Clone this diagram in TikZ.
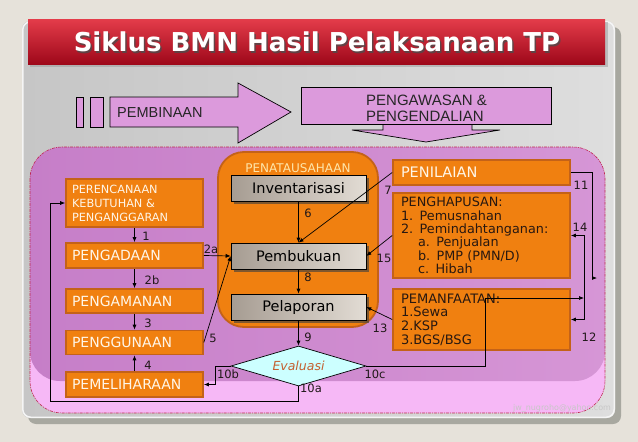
\documentclass[tikz,border=0pt]{standalone}
\usepackage{fontspec}
\setmainfont{DejaVu Sans}
\newfontfamily\lib{Liberation Sans}
\usetikzlibrary{arrows.meta,shapes.geometric,shadows,calc}
\definecolor{bgc}{RGB}{230,226,218}
\definecolor{shc}{RGB}{168,168,160}
\definecolor{cardL}{RGB}{198,198,198}
\definecolor{cardR}{RGB}{222,222,222}
\definecolor{titT}{RGB}{228,60,74}
\definecolor{titB}{RGB}{158,8,26}
\definecolor{orng}{RGB}{240,128,16}
\definecolor{obord}{RGB}{196,98,24}
\definecolor{plum}{RGB}{220,154,220}
\definecolor{pinkl}{RGB}{246,184,246}
\definecolor{purpL}{RGB}{198,126,200}
\definecolor{purpM}{RGB}{234,170,234}
\definecolor{purpR}{RGB}{214,150,214}
\definecolor{cyanl}{RGB}{204,255,255}
\definecolor{evalc}{RGB}{196,96,48}
\definecolor{txtw}{RGB}{255,246,232}
\definecolor{crem}{RGB}{255,230,170}
\definecolor{dashc}{RGB}{190,40,80}
\definecolor{numc}{RGB}{32,24,24}
\definecolor{dtxt}{RGB}{40,24,16}
\definecolor{gryL}{RGB}{166,156,146}
\definecolor{gryR}{RGB}{226,220,212}
\begin{document}
\begin{tikzpicture}[x=1pt,y=-1pt,
  obox/.style={draw=obord, line width=1.6pt, fill=orng, inner xsep=6pt, inner ysep=0pt,
    align=left, text=txtw, font=\fontsize{14}{16}\selectfont},
  lbox/.style={obox, text width=125pt},
  rbox/.style={obox, inner xsep=8pt, text width=161pt},
  gbox/.style={draw=black, line width=0.6pt, left color=gryL, right color=gryR,
    minimum width=135pt, minimum height=26pt, inner sep=0pt,
    font=\fontsize{14.5}{16}\selectfont, text=black,
    drop shadow={shadow xshift=3pt, shadow yshift=-3pt, fill={rgb,255:red,80;green,70;blue,60}, opacity=0.7}},
  lbl/.style={font=\fontsize{11.5}{12}\selectfont, text=numc, inner sep=0pt},
  arr/.style={-{Latex[length=5pt,width=4pt]}, line width=0.7pt, draw=black},
  con/.style={line width=0.7pt, draw=black},
  pl/.style={fill=plum, draw=black, line width=0.7pt}
]
% background
\fill[bgc] (0,0) rectangle (638,442);
% card
\fill[shc, rounded corners=8pt] (28,27) rectangle (621,424);
\shade[left color=cardL, right color=cardR, rounded corners=8pt] (22,21) rectangle (615,418);
\draw[white!92!gray, line width=1.5pt, rounded corners=8pt] (22.75,21.75) rectangle (614.25,417.25);
% title bar
\fill[black!40, opacity=0.5] (30,22) rectangle (608,67);
\shade[top color=titT, bottom color=titB] (28,19) rectangle (605,64);
\node[font={\fontsize{26}{30}\selectfont\bfseries}, text=black!70, opacity=0.8] (titsh) at (318.5,43.5) {Siklus BMN Hasil Pelaksanaan TP};
\node[font={\fontsize{26}{30}\selectfont\bfseries}, text=white] (title) at (317,42) {Siklus BMN Hasil Pelaksanaan TP};
% pembinaan arrow
\filldraw[pl] (76,97) rectangle (83,127);
\filldraw[pl] (90,97) rectangle (103,127);
\filldraw[pl] (110,97) -- (238,97) -- (238,83) -- (291,112) -- (238,143) -- (238,127) -- (110,127) -- cycle;
\node[anchor=west, font={\lib\fontsize{14.5}{16}\selectfont}, text=black!85, inner sep=0pt] (pembin) at (117,113) {PEMBINAAN};
% pengawasan
\filldraw[pl] (383,110) -- (383,130) -- (352,130) -- (426,142) -- (500,130) -- (472,130) -- (472,110) -- cycle;
\filldraw[pl] (301,87) rectangle (551,124);
\node[anchor=west, align=left, font={\lib\fontsize{15}{16.5}\selectfont}, text=black!85, inner sep=0pt] (pengaw) at (366,108.5) {PENGAWASAN \&\\PENGENDALIAN};
% pink region
\begin{scope}
\clip[rounded corners=32pt] (30,147) rectangle (605,413);
\fill[pinkl] (30,147) rectangle (605,413);
\shade[left color=purpL, middle color=purpM, right color=purpR, rounded corners=30pt] (30,147) rectangle (605,381);
\end{scope}
\draw[dashc, line width=0.6pt, dash pattern=on 3pt off 1pt on 1pt off 1pt, rounded corners=32pt] (30,147) rectangle (605,413);
% penatausahaan
\node[draw=obord, line width=1.8pt, fill=orng, rounded corners=26pt, minimum width=160pt, minimum height=175pt, inner sep=0pt] (penat) at (298,239.5) {};
\node[font=\fontsize{12}{14}\selectfont, text=crem, inner sep=0pt] (penatl) at (298,168) {PENATAUSAHAAN};
\node[gbox] (inv) at (298.5,188) {Inventarisasi};
\node[gbox] (pemb) at (298.5,256) {Pembukuan};
\node[gbox] (pelap) at (298.5,307) {Pelaporan};
% left column
\node[lbox, minimum height=48pt, font=\fontsize{11.3}{14}\selectfont] (perenc) at (134.5,203) {PERENCANAAN\\KEBUTUHAN \&\\PENGANGGARAN};
\node[lbox, minimum height=25pt] (pengad) at (134.5,255.5) {PENGADAAN};
\node[lbox, minimum height=24pt] (pengam) at (134.5,301) {PENGAMANAN};
\node[lbox, minimum height=24pt] (penggu) at (134.5,342.5) {PENGGUNAAN};
\node[lbox, minimum height=25pt] (pemel) at (134.5,384.5) {PEMELIHARAAN};
% right column
\node[rbox, minimum height=25pt, font=\fontsize{14.5}{16}\selectfont] (penil) at (481.5,172.5) {PENILAIAN};
\node[rbox, minimum height=85pt, text=dtxt, font=\fontsize{12.8}{13.3}\selectfont] (penghap) at (481.5,235.5) {PENGHAPUSAN:\\1. Pemusnahan\\2. Pemindahtanganan:\\\hspace*{17pt}a. Penjualan\\\hspace*{17pt}b. PMP (PMN/D)\\\hspace*{17pt}c. Hibah};
\node[rbox, minimum height=61pt, text=dtxt, font=\fontsize{13}{13.7}\selectfont] (pemanf) at (481.5,319.5) {PEMANFAATAN:\\1.Sewa\\2.KSP\\3.BGS/BSG};
% evaluasi
\node[diamond, shape aspect=3.375, draw=black, line width=0.7pt, fill=cyanl, minimum width=135pt, minimum height=40pt, inner sep=0pt, font=\fontsize{12.5}{14}\selectfont\itshape, text=evalc] (eval) at (298.5,366) {Evaluasi};
% connectors
\draw[arr] (perenc.south) -- (pengad.north);
\draw[arr] (pengad.south) -- (pengam.north);
\draw[arr] (pengam.south) -- (penggu.north);
\draw[arr] (pemel.north) -- (penggu.south);
\draw[arr] (pengad.east) -- (pemb.west);
\draw[arr] (penggu.east) -- (pemb.west);
\draw[arr] (inv.south) -- (pemb.north);
\draw[arr] (penil.west) -- (pemb.north);
\draw[arr] (penghap.west) -- (pemb.east);
\draw[arr] (pemb.south) -- (pelap.north);
\draw[arr] (pemanf.west) -- (pelap.east);
\draw[arr] (pelap.south) -- (eval.north);
\draw[arr] (eval.west) -- ++(-15,0) |- (pemel.east);
\coordinate (lb) at (50,401);
\draw[arr] (eval.south) |- (lb) |- (perenc.west);
\coordinate (jn) at (584,298);
\coordinate (b10c) at (485,298);
\draw[arr] (eval.east) -| (b10c) -- (jn);
\draw[arr] (jn) |- (penghap.east);
\draw[arr] (jn) |- (pemanf.east);
\coordinate (e11) at (597,278);
\draw[arr] (penil.east) -- ++(22,0) |- (e11);
% labels
\node[lbl] (n1) at (146,236) {1};
\node[lbl] (n2a) at (211,249) {2a};
\node[lbl] (n2b) at (152,280) {2b};
\node[lbl] (n3) at (148,323) {3};
\node[lbl] (n4) at (148,365) {4};
\node[lbl] (n5) at (213,338) {5};
\node[lbl] (n6) at (308,213) {6};
\node[lbl] (n7) at (388,190) {7};
\node[lbl] (n8) at (308,277) {8};
\node[lbl] (n9) at (308,337) {9};
\node[lbl] (n10a) at (311,388) {10a};
\node[lbl] (n10b) at (228,374) {10b};
\node[lbl] (n10c) at (375,374) {10c};
\node[lbl] (n11) at (581,185) {11};
\node[lbl] (n12) at (589,337) {12};
\node[lbl] (n13) at (380,328) {13};
\node[lbl] (n14) at (580,227) {14};
\node[lbl] (n15) at (384,258) {15};
% watermark
\node[font=\fontsize{8}{9}\selectfont, text=black!22, inner sep=0pt] (wm) at (562,408) {jw\_nugroho@yahoo.com};
\end{tikzpicture}
\end{document}
